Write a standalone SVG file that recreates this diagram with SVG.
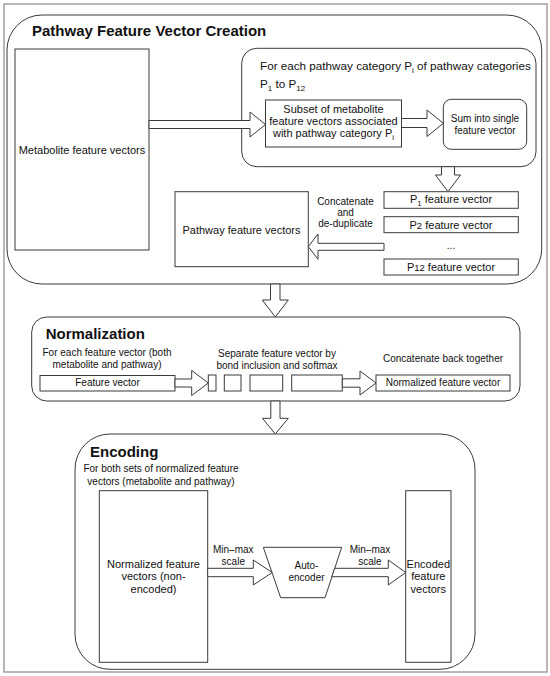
<svg xmlns="http://www.w3.org/2000/svg" width="550" height="676" viewBox="0 0 550 676">
<style>
.frame{fill:#fff;stroke:#a6a6a6;stroke-width:1.6}
.box{fill:#fff;stroke:#3a3a3a;stroke-width:1}
.arr{fill:#fff;stroke:#3a3a3a;stroke-width:1;stroke-linejoin:miter}
text{font-family:"Liberation Sans",Arial,Helvetica,sans-serif;fill:#111}
.t{font-size:15px;font-weight:bold}
.l11{font-size:11px;text-anchor:middle}
.l10{font-size:10px;text-anchor:middle}
.c10{font-size:10px;text-anchor:middle}
.h{font-size:11.7px}
</style>
<rect class="frame" x="4" y="4" width="543" height="668"/>

<g id="sec-pathway">
  <rect class="box" x="7" y="15" width="534.7" height="269" rx="35" ry="35"/>
  <text class="t" x="32" y="36">Pathway Feature Vector Creation</text>
</g>
<g id="metabolite-vectors">
  <rect class="box" x="15" y="49" width="134" height="201"/>
  <text class="l11" x="82" y="153.5">Metabolite feature vectors</text>
</g>
<g id="per-category">
  <rect class="box" x="241.7" y="48.3" width="294.3" height="118.4" rx="15" ry="15"/>
  <text class="h" x="260" y="69.5">For each pathway category P<tspan font-size="8" dy="3">i</tspan><tspan dy="-3"> of pathway categories</tspan></text>
  <text class="h" x="260" y="88.3">P<tspan font-size="8" dy="3">1</tspan><tspan dy="-3"> to P</tspan><tspan font-size="8" dy="3">12</tspan></text>
</g>
<g id="subset">
  <rect class="box" x="265.5" y="100" width="136" height="47"/>
  <text class="l11" x="333.5" y="113.3">Subset of metabolite</text>
  <text class="l11" x="333.5" y="125">feature vectors associated</text>
  <text class="l11" x="333.5" y="136.7">with pathway category P<tspan font-size="8" dy="3">i</tspan></text>
</g>
<g id="sum">
  <rect class="box" x="443.3" y="99.3" width="83.4" height="50" rx="8" ry="8"/>
  <text class="l10" x="485" y="121.5">Sum into single</text>
  <text class="l10" x="485" y="133.5">feature vector</text>
</g>
<g id="p1-vector">
  <rect class="box" x="384" y="191.7" width="134.3" height="16.6"/>
  <text class="l11" x="451" y="202.5">P<tspan font-size="8" dy="3">1</tspan><tspan dy="-3"> feature vector</tspan></text>
</g>
<g id="p2-vector">
  <rect class="box" x="384" y="216.7" width="134.3" height="16"/>
  <text class="l11" x="451" y="228.7">P<tspan font-size="9.5">2</tspan> feature vector</text>
</g>
<g id="ellipsis">
  <text class="l10" x="451" y="249">...</text>
</g>
<g id="p12-vector">
  <rect class="box" x="384" y="259" width="134.3" height="16"/>
  <text class="l11" x="451" y="271">P<tspan font-size="9.5">12</tspan> feature vector</text>
</g>
<g id="pathway-vectors">
  <rect class="box" x="175" y="191.7" width="133.3" height="75"/>
  <text class="l11" x="241.5" y="234">Pathway feature vectors</text>
</g>

<g id="sec-normalization">
  <rect class="box" x="31.7" y="317" width="488.3" height="84" rx="15" ry="15"/>
  <text class="t" x="45.7" y="339.3">Normalization</text>
  <text class="l10" x="107" y="356">For each feature vector (both</text>
  <text class="l10" x="107" y="367.8">metabolite and pathway)</text>
  <text class="l10" x="277" y="357">Separate feature vector by</text>
  <text class="l10" x="277" y="368.5">bond inclusion and softmax</text>
  <text class="l10" x="443" y="362.3">Concatenate back together</text>
</g>
<g id="feature-vector">
  <rect class="box" x="40" y="375.5" width="135" height="15.5"/>
  <text class="l10" x="107.5" y="386.3">Feature vector</text>
</g>
<g id="split-vector">
  <rect class="box" x="208.3" y="375" width="7.7" height="16"/>
  <rect class="box" x="224.3" y="375" width="16.7" height="16"/>
  <rect class="box" x="250" y="375" width="32.7" height="16"/>
  <rect class="box" x="291.7" y="375" width="50.6" height="16"/>
</g>
<g id="normalized-vector">
  <rect class="box" x="376" y="375" width="134" height="16"/>
  <text class="l10" x="443" y="386">Normalized feature vector</text>
</g>

<g id="sec-encoding">
  <rect class="box" x="75" y="434" width="400" height="235.3" rx="35" ry="35"/>
  <text class="t" x="90" y="457">Encoding</text>
  <text class="l10" x="161" y="472.3">For both sets of normalized feature</text>
  <text class="l10" x="161" y="485">vectors (metabolite and pathway)</text>
</g>
<g id="normalized-nonencoded">
  <rect class="box" x="99.3" y="490.7" width="108.4" height="171.6"/>
  <text class="l11" x="153.5" y="567.7">Normalized feature</text>
  <text class="l11" x="153.5" y="580.2">vectors (non-</text>
  <text class="l11" x="153.5" y="592.5">encoded)</text>
</g>
<g id="autoencoder">
  <polygon class="box" points="263.3,547.3 341.7,547.3 325,597.7 280.7,597.7"/>
  <text class="l10" x="306.5" y="569">Auto-</text>
  <text class="l10" x="306.5" y="581">encoder</text>
</g>
<g id="encoded-vectors">
  <rect class="box" x="405.7" y="490.7" width="45.3" height="171.6"/>
  <text class="l11" x="428.3" y="567.7">Encoded</text>
  <text class="l11" x="428.3" y="580.2">feature</text>
  <text class="l11" x="428.3" y="592.7">vectors</text>
</g>

<g id="connectors">
  <polygon class="arr" points="149,120.5 250,120.5 250,112 265.5,124.5 250,137 250,128.5 149,128.5"/>
  <polygon class="arr" points="401.5,118.5 427,118.5 427,110 443.3,123.3 427,136.5 427,127.5 401.5,127.5"/>
  <polygon class="arr" points="441.5,166.7 454.5,166.7 454.5,175 460.5,175 448,191.7 435.5,175 441.5,175"/>
  <polygon class="arr" points="384,243.3 318,243.3 318,234 308.3,246.7 318,259.3 318,250.3 384,250.3"/>
  <text class="c10" x="345.5" y="205">Concatenate</text>
  <text class="c10" x="345.5" y="215.5">and</text>
  <text class="c10" x="345.5" y="226.5">de-duplicate</text>
  <polygon class="arr" points="270.5,284 280,284 280,300 288.3,300 275.3,317 262.3,300 270.5,300"/>
  <polygon class="arr" points="175,379 191.7,379 191.7,370.5 208.3,383 191.7,395.5 191.7,387 175,387"/>
  <polygon class="arr" points="342.3,378.8 360,378.8 360,371 376,383 360,395 360,387.2 342.3,387.2"/>
  <polygon class="arr" points="270.8,401 280,401 280,418.3 288.3,418.3 275.3,434 262.5,418.3 270.8,418.3"/>
  <polygon class="arr" points="207.7,568.3 253.3,568.3 253.3,560 272.2,572.5 253.3,585 253.3,576.7 207.7,576.7"/>
  <text class="c10" x="233.3" y="552.7">Min–max</text>
  <text class="c10" x="233.3" y="565">scale</text>
  <polygon class="arr" points="334.6,568.3 388.3,568.3 388.3,560 405.7,572.5 388.3,585 388.3,576.7 331.8,576.7"/>
  <text class="c10" x="370" y="552.7">Min–max</text>
  <text class="c10" x="370" y="565">scale</text>
</g>
</svg>
